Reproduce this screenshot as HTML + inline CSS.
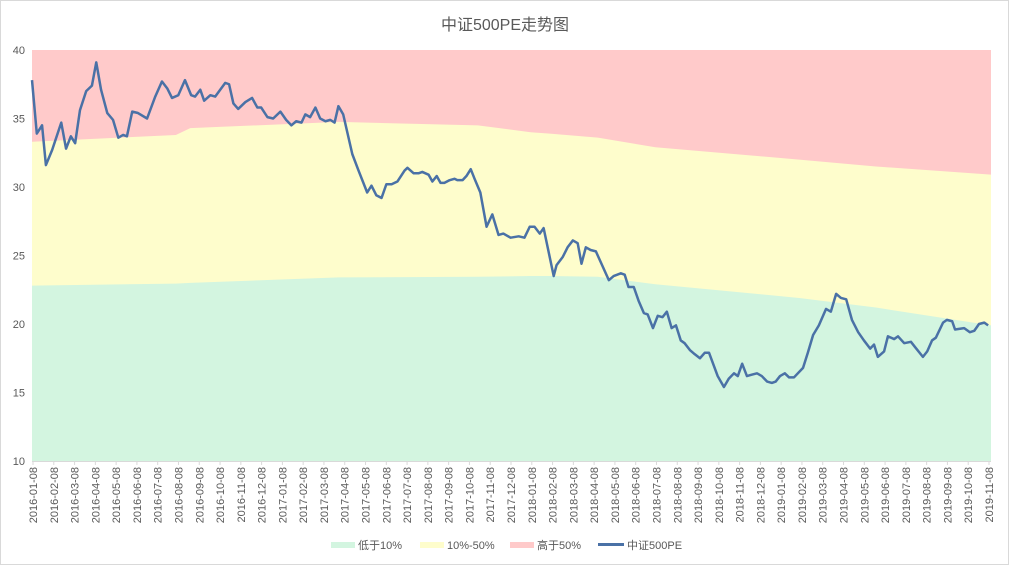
<!DOCTYPE html>
<html><head><meta charset="utf-8"><style>
html,body{margin:0;padding:0;background:#fff;}
svg{display:block;font-family:"Liberation Sans","Noto Sans CJK SC",sans-serif;}
</style></head><body>
<svg id="chart" width="1009" height="565" viewBox="0 0 1009 565">
<rect x="0.5" y="0.5" width="1008" height="564" fill="#fff" stroke="#d9d9d9"/>
<text x="505" y="30" text-anchor="middle" font-size="16" fill="#595959">中证500PE走势图</text>
<g id="bands"></g>
<g id="yaxis"></g>
<g id="xaxis"></g>
<g id="lineg"></g>
<g font-size="11" fill="#595959">
<rect x="331" y="542" width="24" height="6" fill="#d3f5e0"/>
<text x="358" y="549">低于10%</text>
<rect x="420" y="542" width="24" height="6" fill="#fefdcc"/>
<text x="447" y="549">10%-50%</text>
<rect x="510" y="542" width="24" height="6" fill="#ffcaca"/>
<text x="537" y="549">高于50%</text>
<rect x="598" y="543" width="26" height="3" fill="#4a71a6"/>
<text x="627" y="549">中证500PE</text>
</g>
</svg>
<script>
const yTicks=[10,15,20,25,30,35,40];
const xLabels=[];
for(let y=2016;y<=2019;y++)for(let m=1;m<=12;m++){if(y===2019&&m>11)break;xLabels.push(y+'-'+String(m).padStart(2,'0')+'-08');}
const bandWeeks=[0,30,33,64,93,104,108,118,130,160,176,200];
const p10=[22.8,22.95,23.0,23.4,23.45,23.5,23.5,23.45,22.9,21.9,21.2,19.9];
const p50=[33.3,33.8,34.3,34.75,34.5,34.0,33.9,33.6,32.9,32.0,31.5,30.9];
const weeks=[0,1,2.1,2.9,4.2,6.1,7.1,8.1,9,10,11.3,12.5,13.4,14.4,15.7,16.9,18,19,19.8,20.9,22.1,24,25.7,27.1,28.2,29.2,30.5,31.9,33.2,34,35.1,35.9,37.2,38.2,40.3,41.1,42,43,44.5,45.9,47,47.8,49.1,50.3,51.8,53,54.1,55.1,56.2,57,58,59.1,60.1,61.2,62.2,63.1,63.9,64.9,66.8,68.1,69.9,70.8,71.8,72.9,73.9,75,76.2,77.7,78.3,79.6,80.6,81.4,82.7,83.5,84.4,85.2,86,87.1,88.1,88.7,89.8,90.6,91.5,92.3,93.5,94.8,96,97.3,98.3,99.8,101.5,102.7,103.8,104.8,105.9,106.7,108.8,109.4,110.7,111.7,112.8,113.8,114.6,115.5,116.5,117.6,120.3,121.3,122.8,123.6,124.4,125.5,126.5,127.6,128.4,129.5,130.5,131.5,132.4,133.4,134.3,135.3,136.1,137.2,138.2,139.3,140.3,141.2,143,144.3,145.3,146.4,147.2,148.1,149.1,150.1,151.2,152.2,153.3,154.3,155.1,156,157,157.9,158.9,160.8,161.8,162.9,164.1,165.6,166.6,167.7,168.7,169.8,171,172.3,173.5,174.8,175.6,176.4,177.7,178.5,179.8,180.6,181.9,183.3,184.2,185.8,186.7,187.7,188.5,190,190.8,191.9,192.5,194.4,195.6,196.5,197.5,198.6,199.4];
const pe=[37.8,33.9,34.5,31.6,32.7,34.7,32.8,33.7,33.2,35.6,37,37.4,39.1,37.1,35.4,34.9,33.6,33.8,33.7,35.5,35.4,35,36.6,37.7,37.2,36.5,36.7,37.8,36.7,36.6,37.1,36.3,36.7,36.6,37.6,37.5,36.1,35.7,36.2,36.5,35.8,35.8,35.1,35,35.5,34.9,34.5,34.8,34.7,35.3,35.1,35.8,35,34.8,34.9,34.7,35.9,35.3,32.4,31.2,29.6,30.1,29.4,29.2,30.2,30.2,30.4,31.2,31.4,31,31,31.1,30.9,30.4,30.8,30.3,30.3,30.5,30.6,30.5,30.5,30.8,31.3,30.6,29.6,27.1,28,26.5,26.6,26.3,26.4,26.3,27.1,27.1,26.6,27,23.5,24.3,24.9,25.6,26.1,25.9,24.4,25.6,25.4,25.3,23.2,23.5,23.7,23.6,22.7,22.7,21.7,20.8,20.7,19.7,20.6,20.5,20.9,19.7,19.9,18.8,18.6,18.1,17.8,17.5,17.9,17.9,16.2,15.4,16,16.4,16.2,17.1,16.2,16.3,16.4,16.2,15.8,15.7,15.8,16.2,16.4,16.1,16.1,16.8,17.9,19.2,19.9,21.1,20.9,22.2,21.9,21.8,20.3,19.4,18.8,18.2,18.5,17.6,18,19.1,18.9,19.1,18.6,18.7,18.3,17.6,18,18.8,19,20.1,20.3,20.2,19.6,19.7,19.4,19.5,20,20.1,19.9];

const NS='http://www.w3.org/2000/svg';
const X0=32,X1=991,Y0=461,Y1=50;
const xs=w=>X0+(w/200)*(X1-X0);
const ys=v=>Y0-(v-10)/30*(Y0-Y1);
function mk(tag,attrs,parent){const e=document.createElementNS(NS,tag);for(const k in attrs)e.setAttribute(k,attrs[k]);parent.appendChild(e);return e;}
const bandsG=document.getElementById('bands');
const topBand=mk('rect',{x:X0,y:ys(40),width:X1-X0,height:ys(10)-ys(40),fill:'#ffcaca'},bandsG);


const ptsTop=bandWeeks.map((w,i)=>xs(w)+','+ys(p50[i])).join(' ');
const midBand=mk('polygon',{points:ptsTop+' '+xs(200)+','+ys(10)+' '+xs(0)+','+ys(10),fill:'#fefdcc'},bandsG);


const ptsLow=bandWeeks.map((w,i)=>xs(w)+','+ys(p10[i])).join(' ');
const lowBand=mk('polygon',{points:ptsLow+' '+xs(200)+','+ys(10)+' '+xs(0)+','+ys(10),fill:'#d3f5e0'},bandsG);



const ya=document.getElementById('yaxis');
yTicks.forEach(t=>{const tx=mk('text',{x:25,y:ys(t)+4,'text-anchor':'end','font-size':'11',fill:'#595959'},ya);tx.textContent=t;

});
const xa=document.getElementById('xaxis');
const axLine=mk('line',{x1:X0,x2:X1,y1:Y0+0.5,y2:Y0+0.5,stroke:'#d9d9d9'},xa);


const nL=xLabels.length;
xLabels.forEach((l,i)=>{const x=X0+1+i*(X1-X0-3)/(nL-1);
 const tk=mk('line',{x1:x,x2:x,y1:Y0,y2:Y0+4,stroke:'#d9d9d9'},xa);
 
 
 const t=mk('text',{transform:'translate('+(x+4)+','+(Y0+6)+') rotate(-90)','text-anchor':'end','font-size':'11',fill:'#595959'},xa);t.textContent=l;
 
 });
const lg=document.getElementById('lineg');
const nP=Math.min(weeks.length,pe.length);
const linePts=[];
for(let i=0;i<nP;i++)linePts.push(xs(weeks[i])+','+ys(pe[i]));
const peLine=mk('polyline',{points:linePts.join(' '),fill:'none',stroke:'#4a71a6','stroke-width':'2.5','stroke-linejoin':'round'},lg);


</script>
</body></html>
